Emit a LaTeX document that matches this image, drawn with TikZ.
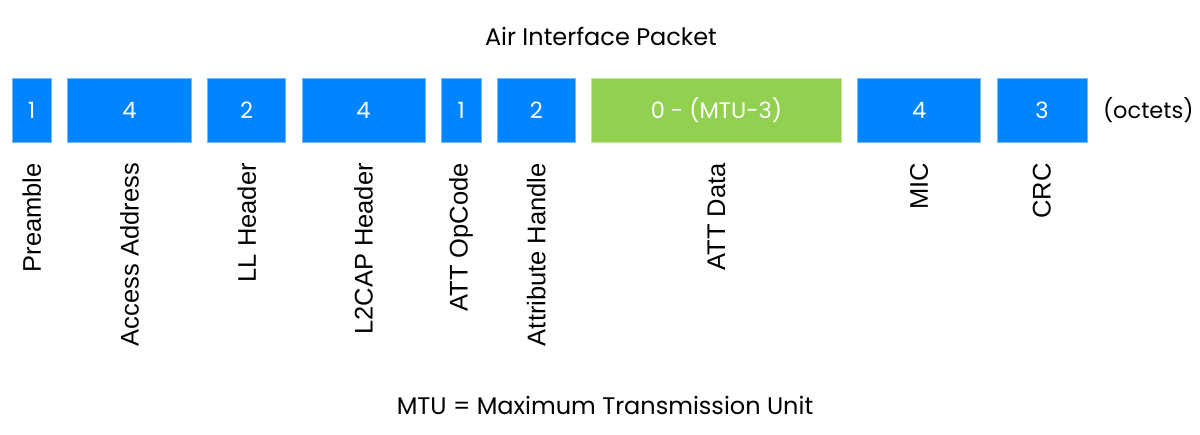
\documentclass[tikz,border=0pt]{standalone}
\usepackage{fontspec}
\setmainfont{Liberation Sans}
\newfontfamily\headfont{Poppins}
\usetikzlibrary{positioning}
\definecolor{pktblue}{RGB}{0,132,255}
\definecolor{pktgreen}{RGB}{146,208,80}
\newcommand{\lblsize}{\fontsize{25.5}{30}\selectfont}
\newcommand{\numsize}{\headfont\fontsize{22.5}{26}\selectfont}
\newcommand{\headsize}{\headfont\fontsize{24}{28}\selectfont}
\begin{document}
\begin{tikzpicture}[x=1pt,y=1pt,
  field/.style={fill=pktblue,draw=pktblue!55!white,line width=0.6pt,minimum height=64pt,inner sep=0pt,text=white,font=\numsize},
  fname/.style={rotate=90,anchor=east,inner sep=0pt,font=\lblsize},
  node distance=15.6pt]
\useasboundingbox (0,0) rectangle (1200,434);
\coordinate (top) at (0,271);
% packet fields
\node[field,minimum width=39pt,anchor=west] (pre) at (12,324) {1};
\node[field,minimum width=124pt,right=of pre] (aa) {4};
\node[field,minimum width=78pt,right=of aa] (ll) {2};
\node[field,minimum width=123pt,right=of ll] (l2cap) {4};
\node[field,minimum width=40pt,right=of l2cap] (op) {1};
\node[field,minimum width=78pt,right=of op] (hdl) {2};
\node[field,fill=pktgreen,draw=pktgreen!55!white,minimum width=250pt,right=of hdl] (data) {0 - (MTU-3)};
\node[field,minimum width=123pt,right=of data] (mic) {4};
\node[field,minimum width=90pt,right=of mic] (crc) {3};
\node[font=\numsize,anchor=west,inner sep=0pt,right=of crc] (unit) {(octets)};
% names under the fields
\foreach \n/\t in {pre/Preamble, aa/Access Address, ll/LL Header, l2cap/L2CAP Header,
  op/ATT OpCode, hdl/Attribute Handle, data/ATT Data, mic/MIC, crc/CRC}
  \node[fname] (\n-name) at (\n |- top) {\t};
\node[font=\headsize] (title) at (601,398) {Air Interface Packet};
\node[font=\headsize] (note) at (605,29) {MTU = Maximum Transmission Unit};
\end{tikzpicture}
\end{document}
